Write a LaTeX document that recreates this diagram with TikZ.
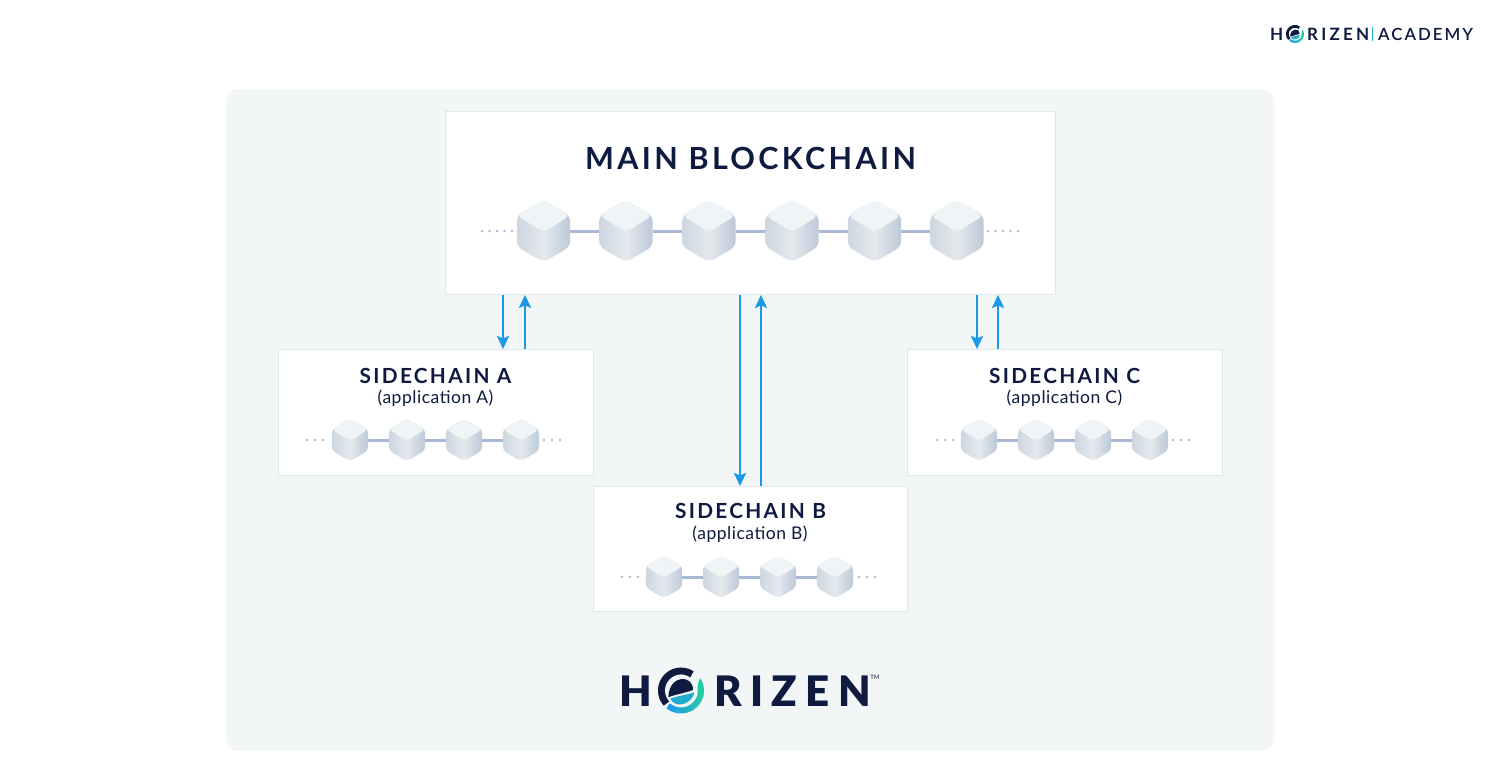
\documentclass[tikz,border=0pt]{standalone}
\usepackage{fontspec}
\setmainfont{Lato}
\newfontfamily\headfont[LetterSpace=11]{Lato Bold}
\newfontfamily\smalllogofont[LetterSpace=19]{Lato Bold}
\newfontfamily\acadfont[LetterSpace=12]{Lato Semibold}
\newfontfamily\logofont[LetterSpace=20]{Lato Black}
\newfontfamily\subfont[LetterSpace=3]{Lato}
\usetikzlibrary{arrows.meta,calc}
\definecolor{panel}{HTML}{F2F6F7}
\definecolor{edge}{HTML}{DEE8EA}
\definecolor{navy}{HTML}{0E1A40}
\definecolor{flowblue}{HTML}{1A9AE6}
\definecolor{chainc}{HTML}{A9B8D3}
\definecolor{cubetop}{HTML}{EFF4F6}
\definecolor{cubel}{HTML}{CDD7E1}
\definecolor{cubem}{HTML}{E4E9ED}
\definecolor{cuber}{HTML}{BCC9D8}
\definecolor{gA}{HTML}{1A9AE6}
\definecolor{gB}{HTML}{26D39A}
\tikzset{
  chainbox/.style={draw=edge,line width=1.4pt,fill=white,inner sep=0pt,anchor=north west},
  flow/.style={draw=flowblue,line width=2.6pt,-{Stealth[length=13pt,width=12pt,inset=2.5pt]}},
  chainlink/.style={draw=chainc,line width=3pt},
  head/.style={text=navy,inner sep=0pt},
  subhead/.style={text=navy,inner sep=0pt,font=\subfont\fontsize{17.5}{19}\selectfont},
  dotc/.style={fill=chainc,draw=none}
}
% name, x, y, scale
\newcommand{\cubeat}[4]{%
  \begin{scope}[shift={(#2,#3)},x=#4pt,y=-#4pt]
    \path[left color=cubel,right color=cuber,middle color=cubem,rounded corners=#4*6pt]
      (0,-31.2)--(26.7,-15.5)--(26.7,15.5)--(0,31.2)--(-26.7,15.5)--(-26.7,-15.5)--cycle;
    \path[fill=cubetop,rounded corners=#4*6pt]
      (0,-31.2)--(26.7,-15.5)--(0,1)--(-26.7,-15.5)--cycle;
  \end{scope}
  \node[inner sep=0pt,minimum width=#4*53pt,minimum height=#4*40pt] (#1) at (#2,#3) {};
}
% x, y, r
\newcommand{\logomark}[3]{%
  \begin{scope}[shift={(#1,#2)},x=#3pt,y=#3pt]
    \draw[navy,line width=#3*0.3pt] (56:0.85) arc[start angle=56,end angle=222,radius=0.85];
    \fill[navy] (-0.55,-0.29) .. controls (-0.52,0.72) and (0.55,0.7) .. (0.52,0.02)
      .. controls (0.2,-0.1) and (-0.2,-0.16) .. cycle;
    \fill[gA!65!gB] (-0.47,-0.36) .. controls (-0.2,-0.24) and (0.25,-0.2) .. (0.58,-0.08)
      .. controls (0.5,-0.55) and (-0.2,-0.85) .. cycle;
    \foreach \a [evaluate=\a as \m using {(\a+130)/1.25}] in {-130,-120,...,-20}{
      \draw[gB!\m!gA,line width=#3*0.26pt] (\a:0.87) arc[start angle=\a,end angle=\a+11,radius=0.87];
    }
    \fill[gB!88!gA] (-12:1) arc[start angle=-12,end angle=32,radius=1]
      .. controls (30:0.85) and (15:0.74) .. (-12:0.74) -- cycle;
  \end{scope}
}
\begin{document}
\begin{tikzpicture}[x=1pt,y=-1pt]
\useasboundingbox (0,0) rectangle (1500,766);
\fill[white] (0,0) rectangle (1500,766);
\fill[panel,rounded corners=12pt] (226,89) rectangle (1274,751);

% boxes
\node[chainbox,minimum width=609.5pt,minimum height=182.5pt] (main) at (445,111) {};
\node[chainbox,minimum width=314.5pt,minimum height=125.5pt] (sa) at (278,349) {};
\node[chainbox,minimum width=314pt,minimum height=125pt] (sb) at (593,486) {};
\node[chainbox,minimum width=314.5pt,minimum height=125.5pt] (sc) at (907,349) {};

% titles
\node[head,font=\headfont\fontsize{30.5}{32}\selectfont] (tmain) at (750.5,158.5) {MAIN BLOCKCHAIN};
\node[head,font=\headfont\fontsize{20.8}{22}\selectfont] (ta) at (435.5,376) {SIDECHAIN A};
\node[subhead] (pa) at (435.5,398) {(application A)};
\node[head,font=\headfont\fontsize{20.8}{22}\selectfont] (tb) at (750.5,511) {SIDECHAIN B};
\node[subhead] (pb) at (750,534) {(application B)};
\node[head,font=\headfont\fontsize{20.8}{22}\selectfont] (tc) at (1064.5,376) {SIDECHAIN C};
\node[subhead] (pc) at (1064.5,398) {(application C)};

% chains
\foreach \n/\x in {1/543.5,2/626,3/709,4/792,5/874.5,6/957}{\cubeat{m\n}{\x}{231}{1}}
\foreach \n/\x in {1/350,2/407,3/464,4/521}{\cubeat{a\n}{\x}{440}{0.68}}
\foreach \n/\x in {1/664,2/721,3/778,4/835}{\cubeat{b\n}{\x}{577}{0.68}}
\foreach \n/\x in {1/979,2/1036,3/1093,4/1150}{\cubeat{c\n}{\x}{440}{0.68}}
\foreach \p/\q in {m1/m2,m2/m3,m3/m4,m4/m5,m5/m6,a1/a2,a2/a3,a3/a4,b1/b2,b2/b3,b3/b4,c1/c2,c2/c3,c3/c4}
  \draw[chainlink] (\p) -- (\q);
\foreach \x in {482,489.5,497,504.5,512,988,995.5,1003,1010.5,1018}
  \fill[dotc] (\x,231) circle (1.4pt);
\foreach \x in {307,315,323,544,552,560}
  \fill[dotc] (\x,440) circle (1.4pt);
\foreach \x in {622,630,638,859,867,875}
  \fill[dotc] (\x,577) circle (1.4pt);
\foreach \x in {937,945,953,1173,1181,1189}
  \fill[dotc] (\x,440) circle (1.4pt);

% arrows
\draw[flow] (503,0 |- main.south) -- (503,0 |- sa.north);
\draw[flow] (525,0 |- sa.north) -- (525,0 |- main.south);
\draw[flow] (740,0 |- main.south) -- (740,0 |- sb.north);
\draw[flow] (761,0 |- sb.north) -- (761,0 |- main.south);
\draw[flow] (977,0 |- main.south) -- (977,0 |- sc.north);
\draw[flow] (998,0 |- sc.north) -- (998,0 |- main.south);

% big logo
\node[text=navy,inner sep=0pt,anchor=west,font=\logofont\fontsize{42}{44}\selectfont] (lh) at (619,691) {H};
\logomark{681}{690.5}{23}
\node[text=navy,inner sep=0pt,anchor=west,font=\logofont\fontsize{42}{44}\selectfont] (lr) at (714,691) {RIZEN};
\node[text=navy,inner sep=0pt,font=\fontsize{6}{7}\selectfont] (ltm) at (875,677) {TM};

% small logo
\node[text=navy,inner sep=0pt,anchor=west,font=\smalllogofont\fontsize{17}{18}\selectfont] (sh) at (1270,34) {H};
\logomark{1295}{34}{9}
\node[text=navy,inner sep=0pt,anchor=west,font=\smalllogofont\fontsize{17}{18}\selectfont] (sr) at (1307,34) {RIZEN};
\fill[flowblue!60!gB] (1371.7,27) rectangle (1372.5,41);
\node[text=navy,inner sep=0pt,anchor=west,font=\acadfont\fontsize{16.8}{18}\selectfont] (sacad) at (1378,34) {ACADEMY};
\end{tikzpicture}
\end{document}
